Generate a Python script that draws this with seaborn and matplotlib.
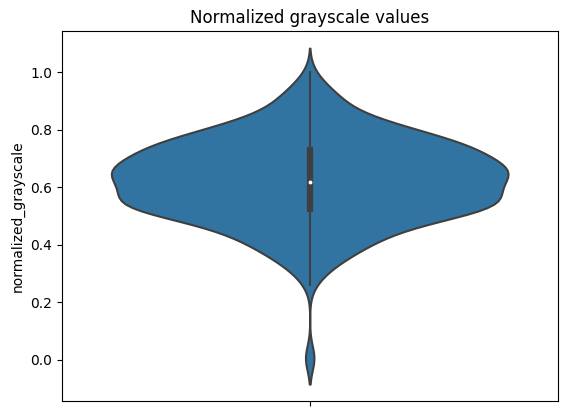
import numpy as np
import pandas as pd
import matplotlib
matplotlib.use("Agg")
import matplotlib.pyplot as plt
import seaborn as sns

grayscale_values = [0.00, 0.02,
                    0.26, 0.28, 0.30, 0.32, 0.34, 0.36, 0.38, 0.40, 0.42, 0.44,
                    0.46, 0.48, 0.50, 0.52, 0.54, 0.56, 0.58, 0.60, 0.62, 0.64,
                    0.66, 0.68, 0.70, 0.73, 0.74, 0.76, 0.78, 0.80, 0.82, 0.84,
                    0.86, 0.88, 0.90, 0.92, 0.94, 0.96, 0.98, 1.00]
value_counts = [2, 1,
                1, 1, 2, 3, 4, 5, 7, 8, 9, 11,
                12, 14, 20, 26, 30, 26, 22, 24, 25, 27,
                29, 28, 26, 24, 20, 18, 16, 15, 12, 8,
                5, 5, 5, 4, 3, 2, 1, 1]

title_text = "Normalized grayscale values"
column_name = "normalized_grayscale"

df = pd.DataFrame({column_name: np.repeat(grayscale_values, value_counts)})

fig = plt.figure(figsize=(5.67, 4.16), dpi=100)
ax = fig.add_axes([0.1088, 0.0362, 0.8748, 0.8885])
sns.violinplot(data=df, y=column_name, ax=ax, linewidth=1.5,
               inner_kws=dict(box_width=4.5, whis_width=1.5, marker="."))
ax.set_title(title_text)
fig.savefig("out.png", dpi=100)
